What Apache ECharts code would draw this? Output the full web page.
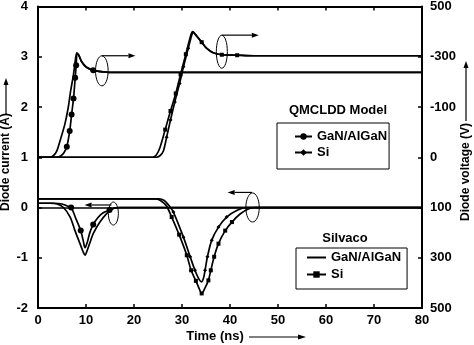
<!DOCTYPE html>
<html><head><meta charset="utf-8">
<script src="https://cdn.jsdelivr.net/npm/echarts@6/dist/echarts.min.js"></script>
<style>html,body{margin:0;padding:0;background:#fff}#c{width:474px;height:345px}</style>
</head><body><div id="c"></div>
<script>
// ---- axes ----
const xMin = 0, xMax = 80, xStep = 10;
const yMin = -2, yMax = 4, yStep = 1;
// right-axis (Diode voltage) tick labels for positions -2..4
const rightAxisLabels = ['500', '300', '100', '0', '-100', '-300', '500'];

// ---- Diode voltage curves (plotted in right-axis position units) ----
// GaN/AlGaN pulse
const voltSilvacoGaN = [[0,1],[2.5,1],[3.2,1.03],[3.9,1.12],[4.6,1.33],[5.6,1.66],[6.3,1.99],[6.8,2.32],[7.4,2.65],[7.85,2.98],[8.1,3.08],[8.5,3.03],[9.1,2.9],[10.1,2.79],[11.5,2.73],[13.6,2.7],[16,2.69],[80,2.69]];
const voltQmclddGaN = [[0,1],[4,1],[4.8,1.03],[5.4,1.09],[6.0,1.21],[6.6,1.52],[7.0,1.85],[7.4,2.17],[7.75,2.58],[7.95,2.83],[8.15,3.06],[8.5,3.03],[9.1,2.9],[10.1,2.79],[11.5,2.73],[13.6,2.7],[16,2.69],[80,2.69]];
const voltQmclddGaNMarks = [4,5,6,7,8,9,14];
// Si pulse
const voltSilvacoSi = [[0,1],[23.8,1],[24.6,1.04],[25.4,1.19],[26.5,1.55],[27.6,1.92],[28.7,2.27],[29.7,2.65],[30.8,3.05],[31.8,3.42],[32.2,3.5],[32.8,3.44],[34.1,3.29],[35.1,3.17],[36.5,3.08],[38.3,3.04],[41.5,3.03],[45,3.02],[80,3.02]];
const voltSilvacoSiMarks = [4,5,6,7,8,12,15,16];
const voltQmclddSi = [[0,1],[24.6,1],[25.4,1.03],[26.1,1.12],[26.8,1.4],[27.6,1.74],[28.5,2.1],[29.5,2.47],[30.3,2.8],[31.3,3.17],[32.0,3.42],[32.35,3.49],[32.9,3.43],[34.1,3.29],[35.1,3.17],[36.5,3.08],[38.3,3.04],[41.5,3.03],[45,3.02],[80,3.02]];
const voltQmclddSiMarks = [4,5,6,7,8,9,13];

// ---- Diode current curves (A) ----
const currSilvacoGaN = [[0,0.085],[2.5,0.085],[4,0.07],[5.3,0.0],[6.7,-0.19],[7.7,-0.46],[8.75,-0.72],[9.4,-0.88],[9.8,-0.95],[10.3,-0.84],[11.0,-0.65],[11.5,-0.52],[12.9,-0.29],[14.3,-0.12],[15.7,-0.02],[17,0],[80,0]];
const currQmclddGaN = [[0,0.085],[3.5,0.085],[5,0.07],[6.1,0.03],[6.9,0.0],[7.8,-0.2],[8.9,-0.46],[9.4,-0.65],[9.8,-0.8],[10.3,-0.68],[10.8,-0.5],[11.5,-0.34],[12.5,-0.2],[13.5,-0.11],[14.9,-0.05],[16,-0.01],[17,0],[80,0]];
const currQmclddGaNMarks = [4,6,11,14];
const currSilvacoSi = [[0,0.17],[24.5,0.17],[25.5,0.14],[26.3,0.08],[26.8,0.03],[27.85,-0.19],[29.4,-0.54],[31.0,-0.95],[31.9,-1.25],[32.9,-1.46],[33.6,-1.62],[34.1,-1.71],[34.7,-1.62],[35.5,-1.45],[36.0,-1.25],[36.7,-0.98],[37.6,-0.72],[39.0,-0.46],[40.4,-0.29],[42.1,-0.13],[43.8,-0.03],[45.2,0],[80,0]];
const currSilvacoSiMarks = [5,6,7,8,9,11,13,14,15,16,17,18];
const currQmclddSi = [[0,0.17],[25.2,0.17],[26.3,0.14],[27.2,0.05],[28.2,-0.09],[30.3,-0.59],[31.7,-0.98],[32.7,-1.25],[33.5,-1.42],[34.1,-1.48],[34.5,-1.4],[34.8,-1.25],[35.3,-0.98],[36.2,-0.65],[37.6,-0.39],[39.3,-0.19],[41.4,-0.06],[43.5,0],[80,0]];
const currQmclddSiMarks = [4,5,6,7,11,12,13,14,15];

// ---- annotations (data coords) ----
const ellipses = [ // [t, v, rx(px), ry(px)]
  [13.3, 2.72, 6.3, 15], [38.3, 3.1, 5.5, 16.5], [15.7, -0.12, 5, 11.5], [44.7, 0.0, 6.7, 14.5]
];
const arrows = [ // [t0, v0, t1, v1] arrowhead at (t1,v1)
  [13.3, 3.02, 20.3, 3.02], [38.3, 3.43, 46.0, 3.43], [15.3, 0.05, 9.7, 0.05], [44.6, 0.3, 39.5, 0.3]
];

const FONT = 'Liberation Sans';
const chart = echarts.init(document.getElementById('c'), null, {renderer: 'canvas'});

function items(points, marks) {
  return points.map((p, i) => (marks && marks.indexOf(i) >= 0) ? {value: p} : {value: p, symbol: 'none'});
}
function ser(name, yAxisIndex, points, marks, symbol, symbolSize) {
  return {
    name, type: 'line', xAxisIndex: 0, yAxisIndex,
    data: items(points, marks), smooth: 0.3,
    symbol: symbol, symbolSize: symbolSize, showSymbol: true,
    lineStyle: {color: '#000', width: 1.7}, itemStyle: {color: '#000', borderWidth: 0},
    emphasis: {disabled: true}, animation: false
  };
}
const N_QG = 'QMCLDD|GaN/AlGaN', N_QS = 'QMCLDD|Si', N_SG = 'Silvaco|GaN/AlGaN', N_SS = 'Silvaco|Si';

const axisLabelStyle = {fontFamily: FONT, fontWeight: 'bold', fontSize: 13, color: '#000'};
const legendCommon = {
  orient: 'vertical', borderColor: '#000', borderWidth: 1, selectedMode: false,
  formatter: n => n.split('|')[1],
  textStyle: {fontFamily: FONT, fontWeight: 'bold', fontSize: 13, color: '#000', lineHeight: 12}
};

const series = [
  ser(N_SG, 1, voltSilvacoGaN, null, 'circle', 6),
  ser(N_QG, 1, voltQmclddGaN, voltQmclddGaNMarks, 'circle', 6),
  ser(N_SS, 1, voltSilvacoSi, voltSilvacoSiMarks, 'rect', 4),
  ser(N_QS, 1, voltQmclddSi, voltQmclddSiMarks, 'diamond', 4),
  ser(N_SG, 0, currSilvacoGaN, null, 'circle', 6),
  ser(N_QG, 0, currQmclddGaN, currQmclddGaNMarks, 'circle', 6),
  ser(N_SS, 0, currSilvacoSi, currSilvacoSiMarks, 'rect', 4),
  ser(N_QS, 0, currQmclddSi, currQmclddSiMarks, 'diamond', 4)
];
series[4].markLine = {silent: true, symbol: 'none', label: {show: false}, lineStyle: {color: '#000', width: 1.7, type: 'solid'}, data: [{yAxis: 0}], animation: false};

chart.setOption({
  animation: false,
  textStyle: {fontFamily: FONT},
  grid: {left: 38, right: 52, top: 5, bottom: 37},
  xAxis: [
    {type: 'value', min: xMin, max: xMax, interval: xStep, position: 'bottom',
     axisLine: {show: true, onZero: false, lineStyle: {color: '#000', width: 2}},
     axisTick: {inside: true, length: 4, lineStyle: {color: '#000', width: 1.5}},
     axisLabel: Object.assign({margin: 6}, axisLabelStyle), splitLine: {show: false}},
    {type: 'value', min: xMin, max: xMax, interval: xStep, position: 'top',
     axisLine: {show: true, onZero: false, lineStyle: {color: '#000', width: 2}},
     axisTick: {inside: true, length: 4, lineStyle: {color: '#000', width: 1.5}},
     axisLabel: {show: false}, splitLine: {show: false}}
  ],
  yAxis: [
    {type: 'value', min: yMin, max: yMax, interval: yStep, position: 'left',
     axisLine: {show: true, onZero: false, lineStyle: {color: '#000', width: 2}},
     axisTick: {inside: true, length: 4, lineStyle: {color: '#000', width: 1.5}},
     axisLabel: Object.assign({margin: 10}, axisLabelStyle), splitLine: {show: false}},
    {type: 'value', min: yMin, max: yMax, interval: yStep, position: 'right',
     axisLine: {show: true, onZero: false, lineStyle: {color: '#000', width: 2}},
     axisTick: {inside: true, length: 4, lineStyle: {color: '#000', width: 1.5}},
     axisLabel: Object.assign({margin: 8, formatter: v => rightAxisLabels[Math.round(v - yMin)]}, axisLabelStyle),
     splitLine: {show: false}}
  ],
  legend: [
    Object.assign({data: [N_QG, N_QS], left: 277, top: 123, padding: [7, 2, 10, 17], itemWidth: 17, itemHeight: 8, itemGap: 3}, legendCommon),
    Object.assign({data: [{name: N_SG, itemStyle: {opacity: 0, color: 'rgba(0,0,0,0)'}}, N_SS], left: 296, top: 248, padding: [3, 6, 8, 10], itemWidth: 19, itemHeight: 8, itemGap: 4}, legendCommon)
  ],
  series
});

// ---- decorations: titles, axis names with arrows, ellipses, arrows ----
function px(t, v) { return chart.convertToPixel({gridIndex: 0}, [t, v]); }
function arrowGraphic(x0, y0, x1, y1, head, w) {
  const ang = Math.atan2(y1 - y0, x1 - x0);
  const bx = x1 - head * Math.cos(ang), by = y1 - head * Math.sin(ang);
  const nx = -Math.sin(ang) * w / 2, ny = Math.cos(ang) * w / 2;
  return [
    {type: 'line', shape: {x1: x0, y1: y0, x2: bx, y2: by}, style: {stroke: '#000', lineWidth: 1.2}, silent: true},
    {type: 'polygon', shape: {points: [[x1, y1], [bx + nx, by + ny], [bx - nx, by - ny]]}, style: {fill: '#000'}, silent: true}
  ];
}
const g = [];
ellipses.forEach(e => {
  const p = px(e[0], e[1]);
  g.push({type: 'ellipse', shape: {cx: p[0], cy: p[1], rx: e[2], ry: e[3]}, style: {fill: 'none', stroke: '#000', lineWidth: 1}, silent: true});
});
arrows.forEach(a => {
  const p0 = px(a[0], a[1]), p1 = px(a[2], a[3]);
  arrowGraphic(p0[0], p0[1], p1[0], p1[1], 7, 5).forEach(o => g.push(o));
});
const titleFont = 'bold 13px "' + FONT + '"';
const nameFont = 'bold 12px "' + FONT + '"';
g.push({type: 'text', x: 338, y: 110, style: {text: 'QMCLDD Model', font: titleFont, fill: '#000', align: 'center', verticalAlign: 'middle'}, silent: true});
g.push({type: 'text', x: 345, y: 238, style: {text: 'Silvaco', font: titleFont, fill: '#000', align: 'center', verticalAlign: 'middle'}, silent: true});
// axis names
g.push({type: 'text', x: 6, y: 162, rotation: Math.PI / 2, style: {text: 'Diode current (A)', font: nameFont, fill: '#000', align: 'center', verticalAlign: 'middle'}, silent: true});
arrowGraphic(6, 114, 6, 78, 7, 5).forEach(o => g.push(o));
g.push({type: 'text', x: 466, y: 172, rotation: Math.PI / 2, style: {text: 'Diode voltage (V)', font: nameFont, fill: '#000', align: 'center', verticalAlign: 'middle'}, silent: true});
arrowGraphic(466, 121, 466, 61, 7, 5).forEach(o => g.push(o));
g.push({type: 'text', x: 215, y: 336, style: {text: 'Time (ns)', font: titleFont, fill: '#000', align: 'center', verticalAlign: 'middle'}, silent: true});
arrowGraphic(249, 337, 306, 337, 8, 5).forEach(o => g.push(o));
chart.setOption({graphic: g});
</script>
</body></html>
